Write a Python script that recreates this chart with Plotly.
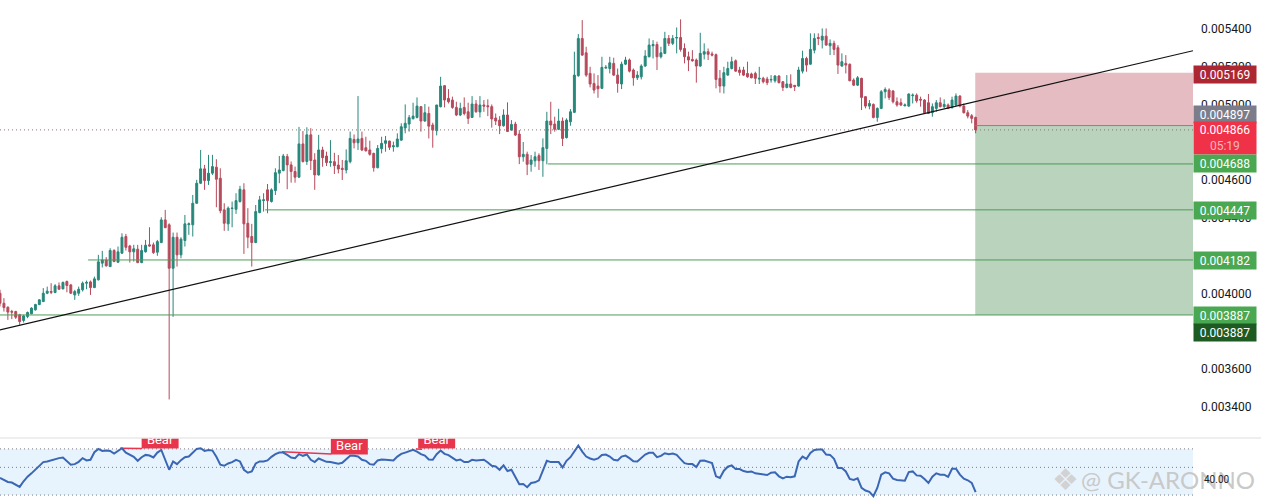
import plotly.graph_objects as go

# prices are in millionths, e.g. 4866 is 0.004866
highs = [
    4020, 3976, 3932, 3914, 3909, 3893, 3888, 3905, 3928, 3946,
    3970, 4029, 4037, 4055, 4050, 4059, 4064, 4069, 4051, 4020,
    4037, 4064, 4069, 4069, 4090, 4205, 4226, 4193, 4240, 4235,
    4249, 4319, 4316, 4258, 4258, 4258, 4258, 4284, 4351, 4270,
    4284, 4404, 4443, 4372, 4323, 4323, 4298, 4416, 4376, 4522,
    4602, 4760, 4681, 4734, 4734, 4711, 4663, 4478, 4461, 4487,
    4531, 4570, 4584, 4452, 4369, 4469, 4517, 4531, 4580, 4557,
    4663, 4728, 4739, 4739, 4699, 4672, 4882, 4860, 4880, 4875,
    4743, 4840, 4777, 4751, 4812, 4745, 4733, 4707, 4763, 4857,
    4842, 5045, 4857, 4830, 4809, 4745, 4786, 4830, 4834, 4809,
    4804, 4848, 4901, 5001, 4945, 5010, 5038, 4992, 5003, 4989,
    4904, 4998, 5147, 5103, 5082, 5042, 5015, 5010, 5038, 5010,
    5045, 5024, 5045, 5024, 5028, 5001, 4953, 4939, 4975, 5012,
    4918, 4909, 4865, 4802, 4751, 4733, 4751, 4742, 4821, 4962,
    5015, 4936, 4978, 4932, 4927, 4976, 5280, 5373, 5447, 5306,
    5200, 5165, 5156, 5253, 5209, 5253, 5248, 5191, 5227, 5253,
    5244, 5191, 5177, 5213, 5288, 5350, 5341, 5333, 5306, 5385,
    5368, 5368, 5408, 5451, 5324, 5280, 5288, 5244, 5380, 5324,
    5297, 5280, 5270, 5183, 5200, 5227, 5253, 5239, 5200, 5200,
    5227, 5169, 5174, 5200, 5147, 5147, 5156, 5156, 5156, 5124,
    5156, 5160, 5103, 5200, 5285, 5253, 5377, 5377, 5377, 5403,
    5403, 5345, 5338, 5315, 5271, 5262, 5218, 5139, 5151, 5142,
    5045, 5024, 5006, 4985, 5077, 5091, 5086, 5077, 5038, 5033,
    5006, 5059, 5059, 5059, 5042, 5029, 5056, 5006, 5024, 5038,
    5028, 5006, 5042, 5059, 5050, 5006, 4971, 4950, 4936,
]
body_tops = [
    4002, 3949, 3928, 3905, 3905, 3888, 3882, 3900, 3923, 3942,
    3967, 4002, 4013, 4011, 4041, 4041, 4059, 4064, 4046, 4011,
    4023, 4055, 4059, 4062, 4078, 4168, 4178, 4178, 4228, 4228,
    4221, 4298, 4302, 4252, 4237, 4235, 4228, 4256, 4258, 4258,
    4275, 4390, 4390, 4364, 4298, 4298, 4288, 4369, 4369, 4478,
    4584, 4660, 4660, 4637, 4672, 4669, 4610, 4443, 4452, 4452,
    4492, 4552, 4549, 4372, 4302, 4434, 4496, 4496, 4549, 4549,
    4640, 4654, 4728, 4725, 4681, 4646, 4792, 4792, 4840, 4840,
    4707, 4760, 4760, 4728, 4698, 4698, 4680, 4663, 4703, 4821,
    4816, 4818, 4821, 4772, 4760, 4742, 4768, 4795, 4809, 4807,
    4782, 4818, 4883, 4901, 4931, 4939, 4992, 4989, 4957, 4953,
    4892, 4998, 5098, 5100, 5033, 5024, 4985, 4980, 4985, 4962,
    5003, 5003, 4998, 4998, 4994, 4989, 4929, 4918, 4945, 4945,
    4895, 4897, 4844, 4737, 4737, 4707, 4724, 4730, 4772, 4913,
    4913, 4897, 4913, 4913, 4918, 4962, 5156, 5350, 5350, 5274,
    5165, 5112, 5098, 5197, 5197, 5221, 5218, 5156, 5214, 5236,
    5236, 5183, 5156, 5204, 5257, 5315, 5318, 5318, 5274, 5350,
    5350, 5350, 5355, 5355, 5297, 5253, 5239, 5236, 5271, 5280,
    5280, 5268, 5264, 5139, 5169, 5191, 5227, 5232, 5183, 5183,
    5165, 5162, 5165, 5139, 5139, 5135, 5133, 5151, 5151, 5121,
    5109, 5109, 5102, 5183, 5244, 5244, 5292, 5350, 5355, 5362,
    5362, 5324, 5324, 5301, 5227, 5218, 5213, 5130, 5142, 5139,
    5042, 5006, 5001, 4980, 5068, 5080, 5077, 5072, 5015, 5010,
    4998, 5056, 5050, 5050, 5028, 5024, 5010, 4989, 5010, 5010,
    5001, 4998, 5024, 5045, 5045, 4992, 4957, 4941, 4932,
]
body_bottoms = [
    3949, 3926, 3902, 3902, 3875, 3852, 3858, 3879, 3893, 3914,
    3942, 3958, 4002, 4007, 4006, 4023, 4025, 4043, 4002, 3993,
    4002, 4020, 4055, 4032, 4032, 4073, 4161, 4147, 4143, 4170,
    4166, 4214, 4245, 4221, 4221, 4164, 4164, 4221, 4252, 4217,
    4219, 4270, 4349, 4134, 4134, 4205, 4205, 4281, 4365, 4364,
    4478, 4584, 4598, 4598, 4637, 4605, 4439, 4372, 4369, 4450,
    4446, 4487, 4369, 4298, 4270, 4270, 4429, 4492, 4492, 4487,
    4545, 4637, 4651, 4681, 4646, 4616, 4616, 4699, 4699, 4704,
    4628, 4628, 4719, 4693, 4693, 4677, 4659, 4657, 4654, 4698,
    4798, 4798, 4760, 4756, 4737, 4666, 4666, 4767, 4795, 4774,
    4777, 4777, 4812, 4876, 4897, 4925, 4932, 4913, 4913, 4886,
    4865, 4862, 4989, 5024, 5015, 4985, 4945, 4945, 4953, 4927,
    4932, 4962, 4961, 4992, 4989, 4924, 4913, 4888, 4888, 4858,
    4865, 4839, 4724, 4724, 4684, 4684, 4703, 4703, 4703, 4768,
    4892, 4869, 4869, 4821, 4825, 4909, 4959, 5153, 5262, 5156,
    5109, 5077, 5084, 5086, 5193, 5191, 5156, 5112, 5109, 5214,
    5177, 5142, 5142, 5147, 5204, 5253, 5311, 5253, 5253, 5271,
    5324, 5324, 5352, 5292, 5253, 5236, 5232, 5204, 5204, 5267,
    5266, 5262, 5133, 5098, 5098, 5156, 5191, 5177, 5170, 5156,
    5147, 5142, 5139, 5135, 5121, 5116, 5130, 5126, 5116, 5091,
    5091, 5091, 5095, 5098, 5177, 5209, 5214, 5288, 5350, 5341,
    5315, 5311, 5292, 5209, 5204, 5209, 5126, 5103, 5103, 5038,
    4992, 4992, 4932, 4932, 4980, 5068, 5038, 5015, 4998, 4998,
    4994, 4992, 5047, 5020, 5024, 4957, 4953, 4957, 4980, 4989,
    4989, 4980, 4985, 4998, 4992, 4957, 4939, 4927, 4866,
]
lows = [
    3932, 3905, 3861, 3865, 3866, 3835, 3847, 3870, 3891, 3910,
    3939, 3955, 3997, 3997, 4002, 4020, 4023, 4007, 3999, 3967,
    3988, 4011, 4023, 3993, 4029, 4069, 4138, 4143, 4140, 4166,
    4163, 4210, 4228, 4164, 4170, 4161, 4161, 4217, 4249, 4210,
    4200, 4267, 4346, 3440, 3877, 4143, 4187, 4249, 4311, 4302,
    4475, 4580, 4549, 4575, 4628, 4457, 4425, 4332, 4332, 4351,
    4422, 4482, 4210, 4240, 4143, 4267, 4425, 4434, 4425, 4482,
    4522, 4584, 4647, 4552, 4587, 4587, 4612, 4693, 4681, 4654,
    4549, 4624, 4671, 4675, 4671, 4633, 4636, 4601, 4636, 4689,
    4768, 4760, 4754, 4751, 4730, 4645, 4663, 4742, 4751, 4760,
    4751, 4774, 4809, 4848, 4857, 4922, 4927, 4857, 4909, 4821,
    4772, 4837, 4985, 4985, 5006, 4978, 4939, 4939, 4943, 4897,
    4929, 4957, 4932, 4962, 4939, 4878, 4892, 4844, 4883, 4855,
    4862, 4834, 4685, 4698, 4627, 4645, 4671, 4654, 4618, 4684,
    4844, 4857, 4865, 4781, 4821, 4888, 4955, 5147, 5258, 5147,
    5091, 5059, 5036, 5082, 5190, 5165, 5151, 5063, 5082, 5209,
    5170, 5100, 5130, 5133, 5200, 5250, 5244, 5183, 5244, 5267,
    5310, 5315, 5271, 5280, 5218, 5177, 5227, 5116, 5200, 5239,
    5236, 5255, 5086, 5063, 5059, 5153, 5186, 5174, 5153, 5151,
    5142, 5139, 5109, 5109, 5112, 5103, 5116, 5116, 5112, 5072,
    5086, 5086, 5072, 5095, 5165, 5174, 5211, 5271, 5315, 5297,
    5311, 5262, 5262, 5162, 5200, 5165, 5124, 5098, 5098, 4971,
    4980, 4975, 4927, 4909, 4976, 5033, 5024, 5006, 4989, 4992,
    4990, 4989, 5006, 5010, 4989, 4953, 4950, 4936, 4962, 4985,
    4980, 4976, 4978, 4992, 4985, 4953, 4927, 4901, 4848,
]
# candles that closed up, all the others closed down
green_candles = [
    6, 7, 8, 9, 10, 11, 12, 14, 16, 19, 20, 21, 22, 24, 25, 26, 28, 30, 31, 34,
    36, 37, 40, 41, 44, 46, 47, 48, 49, 50, 51, 53, 54, 58, 59, 60, 61, 65, 66, 67,
    69, 70, 71, 72, 76, 78, 81, 84, 88, 89, 91, 96, 97, 98, 100, 101, 102, 103, 104, 105,
    106, 108, 111, 112, 117, 120, 122, 128, 130, 133, 135, 136, 138, 139, 142, 144, 145, 146, 147, 153,
    154, 155, 158, 159, 162, 163, 164, 165, 166, 168, 169, 171, 172, 178, 179, 184, 185, 186, 193, 196,
    197, 200, 203, 204, 206, 207, 209, 211, 214, 218, 221, 223, 224, 225, 230, 231, 232, 237, 238, 240,
    242, 243,
]
rsi = [
    38.5, 36.0, 34.2, 33.5, 31.0, 28.8, 34.9, 39.9, 43.5, 47.4,
    52.1, 55.7, 56.4, 57.8, 58.9, 60.0, 60.7, 56.4, 52.8, 53.5,
    56.0, 60.0, 57.5, 58.2, 66.4, 70.0, 67.8, 68.2, 67.8, 65.0,
    67.8, 70.7, 66.0, 63.9, 61.4, 57.1, 61.0, 63.5, 62.8, 60.7,
    66.0, 68.9, 58.2, 47.4, 56.4, 53.5, 57.8, 61.0, 61.7, 66.4,
    70.0, 70.7, 67.8, 68.9, 68.2, 61.4, 52.8, 51.7, 54.2, 55.7,
    58.2, 56.4, 47.4, 44.2, 45.6, 54.2, 56.4, 56.4, 57.5, 61.4,
    64.3, 66.0, 66.0, 63.5, 60.7, 60.0, 64.3, 62.5, 63.9, 58.2,
    55.7, 59.6, 57.8, 56.0, 55.7, 54.9, 53.9, 54.9, 58.2, 62.5,
    62.5, 61.7, 58.2, 57.1, 53.5, 52.8, 57.5, 58.5, 58.2, 57.5,
    57.5, 61.7, 64.6, 66.0, 67.1, 68.9, 67.1, 64.3, 62.8, 58.5,
    58.2, 64.3, 68.2, 64.6, 63.2, 60.7, 57.5, 58.5, 55.7, 55.7,
    58.2, 57.5, 58.2, 58.2, 55.3, 51.7, 51.0, 47.4, 52.1, 46.0,
    47.4, 39.6, 31.7, 32.0, 28.5, 33.1, 33.8, 36.0, 47.4, 57.1,
    55.7, 55.7, 55.7, 49.9, 57.1, 61.0, 67.8, 73.6, 67.1, 61.7,
    59.6, 58.2, 59.6, 63.5, 63.9, 61.7, 58.2, 57.5, 61.7, 62.8,
    60.0, 56.7, 56.4, 60.0, 63.9, 65.7, 65.7, 61.0, 62.5, 65.3,
    64.3, 65.0, 63.5, 58.9, 54.6, 53.5, 53.5, 50.3, 57.1, 57.5,
    56.0, 54.6, 40.3, 38.5, 46.4, 50.7, 52.1, 48.1, 48.1, 46.0,
    44.9, 45.6, 43.5, 43.1, 42.1, 41.7, 44.2, 44.6, 40.3, 38.1,
    39.9, 39.2, 40.3, 56.4, 61.7, 59.2, 65.7, 68.9, 69.3, 69.3,
    63.9, 63.5, 59.2, 49.2, 49.2, 45.6, 37.4, 36.3, 38.1, 27.7,
    24.9, 23.4, 18.8, 27.7, 42.1, 44.6, 43.5, 37.8, 36.3, 35.6,
    35.6, 44.9, 45.6, 41.3, 41.0, 37.4, 33.1, 39.9, 43.5, 42.1,
    42.1, 39.6, 48.5, 48.5, 42.1, 37.8, 36.0, 33.1, 23.1,
]
price_ticks = [5400, 5200, 5000, 4800, 4600, 4400, 4000, 3800, 3600, 3400]
rsi_levels = [70, 50, 20]

last_price = 4866
stop_price = 5169
entry_price = 4889
target_price = 3887
# take profit levels and the candle each one starts from
level_prices = [4686, 4443, 4178, 3887]
level_starts = [139.3, 67.4, 22.4, 0]

# trend line, candle index and price at both ends
trend_x = [0, 303.25]
trend_y = [3808, 5285]

# right hand price tags
tag_values = [5169, 4897, 4866, 4688, 4447, 4182, 3887, 3887]
tag_texts = ["0.005169", "0.004897", "0.004866<br><span style='color:#f9b4bc'>05:19</span>", "0.004688",
             "0.004447", "0.004182", "0.003887", "0.003887"]
tag_colors = ["#ad2733", "#7b7e8a", "#ef3248", "#4aa853", "#4aa853", "#4aa853", "#4aa853", "#1d5b22"]
tag_heights = [17, 17, 32, 17, 17, 17, 17, 17]
tag_shifts = [-1.6, 9.6, -8, 0, -1, -1, -1, -17.7]

# Bear labels on the rsi pane
bear_x = [40.7, 88.8, 111.0]
bear_y = [78.9, 72.5, 78.9]
bear_lines = [(30.5, 70.7, 36.1, 70.5), (71.7, 67.0, 84.2, 64.5), (105.7, 70.0, 107.3, 69.5)]

GREEN = "#27877b"
RED = "#b6495b"
X_MAX = 303.25
TOOL_X = 247.9
PANE = 66 / 504
U = 1e-6

up = set(green_candles)
n = len(highs)
xs = list(range(n))
opens = [(body_bottoms[i] if i in up else body_tops[i]) * U for i in xs]
closes = [(body_tops[i] if i in up else body_bottoms[i]) * U for i in xs]

fig = go.Figure()
fig.add_trace(go.Candlestick(
    x=xs, open=opens, close=closes,
    high=[v * U for v in highs], low=[v * U for v in lows],
    increasing=dict(line=dict(color=GREEN, width=1), fillcolor=GREEN),
    decreasing=dict(line=dict(color=RED, width=1), fillcolor=RED),
    whiskerwidth=0, xaxis="x", yaxis="y",
))
fig.add_trace(go.Scatter(
    x=xs, y=rsi, mode="lines", line=dict(color="#3a66b3", width=2),
    xaxis="x2", yaxis="y2",
))
fig.add_trace(go.Scatter(
    x=bear_x, y=bear_y, mode="text", text=["Bear"] * 3,
    textfont=dict(family="Roboto", size=13, color="white"),
    xaxis="x2", yaxis="y2",
))


def hline(y, x0=0, x1=X_MAX, color="#4f9a58", width=1, dash="solid", layer="above", ax=""):
    fig.add_shape(type="line", xref="x" + ax, yref="y" + ax, x0=x0, x1=x1, y0=y, y1=y,
                  line=dict(color=color, width=width, dash=dash), layer=layer)


# position tool
fig.add_shape(type="rect", xref="x", yref="y", x0=TOOL_X, x1=X_MAX, y0=entry_price * U, y1=stop_price * U,
              fillcolor="#e4bcc2", line_width=0, layer="below")
fig.add_shape(type="rect", xref="x", yref="y", x0=TOOL_X, x1=X_MAX, y0=target_price * U, y1=entry_price * U,
              fillcolor="#b9d3bd", line_width=0, layer="below")
hline(entry_price * U, TOOL_X, X_MAX, color="#7a8a7a")

for price, start in zip(level_prices, level_starts):
    hline(price * U, start)

hline(last_price * U, color="#8a7575", dash="1px,3px")
fig.add_shape(type="line", xref="x", yref="y", x0=trend_x[0], x1=trend_x[1],
              y0=trend_y[0] * U, y1=trend_y[1] * U, line=dict(color="#111111", width=1.2))

# rsi pane
fig.add_shape(type="rect", xref="x2", yref="y2", x0=0, x1=X_MAX, y0=rsi_levels[2], y1=rsi_levels[0],
              fillcolor="#e7f4fe", line_width=0, layer="below")
for level in rsi_levels:
    hline(level, color="#787b86", dash="1px,3px", layer="below", ax="2")
fig.add_shape(type="line", xref="paper", yref="paper", x0=0, x1=1, y0=PANE, y1=PANE,
              line=dict(color="#e8e8e8", width=1.5))
for cx, cy in zip(bear_x, bear_y):
    fig.add_shape(type="rect", xref="x2", yref="y2", x0=cx - 4.7, x1=cx + 4.7, y0=cy - 8.6, y1=cy + 8.6,
                  fillcolor="#e8354c", line_width=0, layer="below")
for x0, y0, x1, y1 in bear_lines:
    fig.add_shape(type="line", xref="x2", yref="y2", x0=x0, x1=x1, y0=y0, y1=y1,
                  line=dict(color="#e8354c", width=1.5), layer="below")

for value, text, color, height, shift in zip(tag_values, tag_texts, tag_colors, tag_heights, tag_shifts):
    fig.add_annotation(xref="paper", yref="y", x=1225 / 1261, y=value * U, text=text, showarrow=False,
                       xanchor="center", yanchor="middle",
                       bgcolor=color, width=62, height=height, borderpad=0, yshift=shift,
                       font=dict(family="Roboto", size=12, color="white"), align="center")

# watermark and rsi scale label
fig.add_annotation(xref="paper", yref="paper", x=1065 / 1261, y=25 / 504, text="❖", showarrow=False,
                   xanchor="center", yanchor="middle",
                   font=dict(family="DejaVu Sans", size=30, color="#d2d2d2"))
fig.add_annotation(xref="paper", yref="paper", x=1168 / 1261, y=25 / 504, text="@ GK-ARONNO", showarrow=False,
                   xanchor="center", yanchor="middle",
                   font=dict(family="Lato", size=24, color="#c9c9c9"))
fig.add_annotation(xref="paper", yref="paper", x=1216 / 1261, y=25 / 504, text="40.00", showarrow=False,
                   xanchor="center", yanchor="middle",
                   font=dict(family="Roboto", size=10, color="#222222"))

fig.update_layout(
    width=1261, height=504, margin=dict(l=0, r=0, t=0, b=0),
    paper_bgcolor="white", plot_bgcolor="white", showlegend=False,
    xaxis=dict(domain=[0, 1193 / 1261], range=[0, X_MAX], visible=False, rangeslider_visible=False, anchor="y"),
    xaxis2=dict(domain=[0, 1193 / 1261], range=[0, X_MAX], visible=False, anchor="y2"),
    yaxis=dict(domain=[PANE, 1], range=[3236 * U, 5553.4 * U], side="right", anchor="x",
               tickvals=[v * U for v in price_ticks], tickformat=".6f", showgrid=False, zeroline=False,
               showline=False, ticks="", ticklabelstandoff=7,
               tickfont=dict(family="Roboto", size=12, color="#131722")),
    yaxis2=dict(domain=[0, PANE], range=[10.3, 81.8], visible=False, anchor="x2"),
)

fig.write_html("out.html", config={"displayModeBar": False}, post_script="document.body.style.margin='0';")
